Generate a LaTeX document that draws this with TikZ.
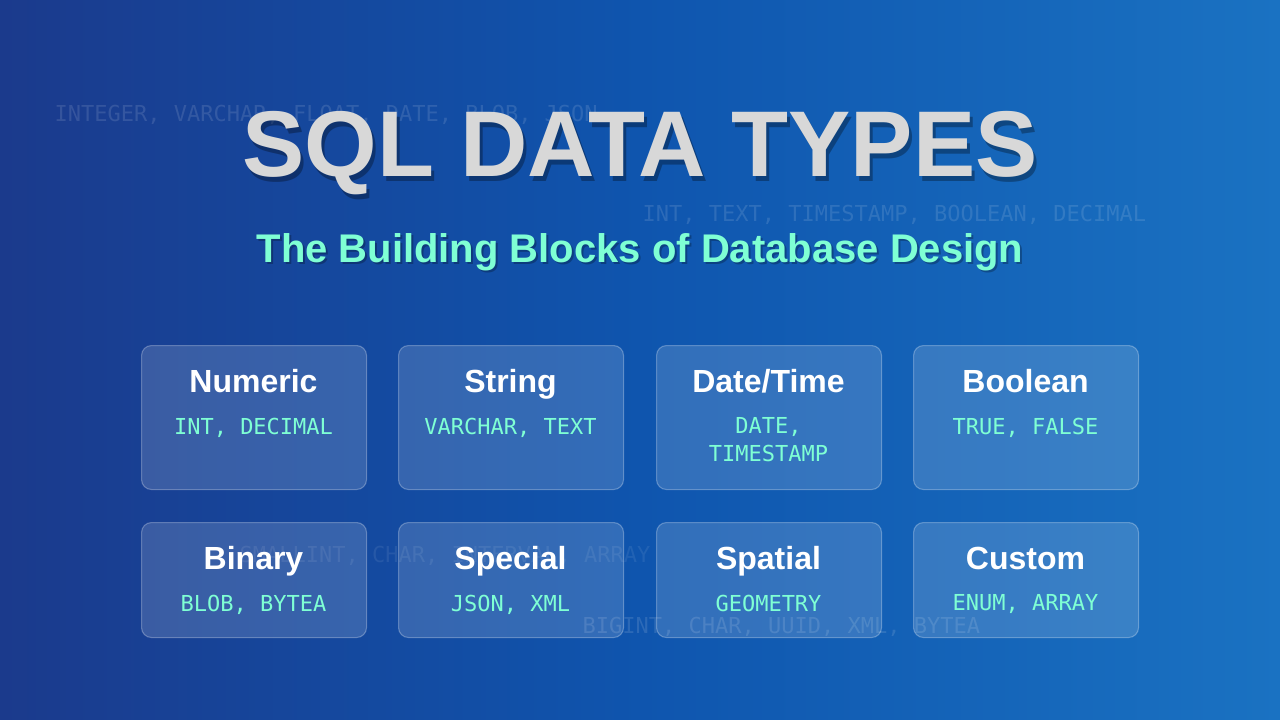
\documentclass[tikz,border=0pt]{standalone}
\usepackage{fontspec}
\setmainfont{Liberation Sans}
\newfontfamily\monof{DejaVu Sans Mono}
\definecolor{bgA}{HTML}{1B3A8C}
\definecolor{bgB}{HTML}{0F55AE}
\definecolor{bgC}{HTML}{1A72C2}
\definecolor{aqua}{HTML}{7FFFD4}
\definecolor{titleg}{HTML}{D8D8D8}
\tikzset{
 card/.style={draw=white,draw opacity=0.28,fill=white,fill opacity=0.15,rounded corners=7.5pt,line width=0.8pt,minimum width=168.75pt,text opacity=1},
 cardhead/.style={font=\bfseries\fontsize{24}{26}\selectfont,text=white},
 cardsub/.style={font=\monof\fontsize{16.5}{21}\selectfont,text=aqua,align=center},
 ghost/.style={font=\monof\fontsize{16.5}{18}\selectfont,text=white,text opacity=0.12,anchor=west}
}
\begin{document}
\begin{tikzpicture}[x=0.75pt,y=-0.75pt]
\useasboundingbox (0,0) rectangle (1280,720);
\shade[left color=bgA,right color=bgC,middle color=bgB] (0,0) rectangle (1280,720);
\node[ghost] (g1) at (50,115) {INTEGER, VARCHAR, FLOAT, DATE, BLOB, JSON};
\node[ghost] (g2) at (638,215) {INT, TEXT, TIMESTAMP, BOOLEAN, DECIMAL};
\node[ghost,anchor=east,text opacity=0.08] (g3) at (655,556) {SMALLINT, CHAR, INTERVAL, ARRAY};
\node[ghost] (g4) at (578,627) {BIGINT, CHAR, UUID, XML, BYTEA};
\node[font=\bfseries\fontsize{70}{76}\selectfont,text=black,opacity=0.3] at (643,158) {SQL DATA TYPES};
\node[font=\bfseries\fontsize{70}{76}\selectfont,text=titleg] (title) at (640,153) {SQL DATA TYPES};
\node[font=\bfseries\fontsize{30}{34}\selectfont,text=black,opacity=0.25] at (642,254) {The Building Blocks of Database Design};
\node[font=\bfseries\fontsize{30}{34}\selectfont,text=aqua] (sub) at (640,252) {The Building Blocks of Database Design};
\foreach \x/\y/\h/\t/\s [count=\i] in {
 141/345/144/Numeric/{INT, DECIMAL},
 398/345/144/String/{VARCHAR, TEXT},
 656/345/144/Date\slash Time/{DATE,\\TIMESTAMP},
 913/345/144/Boolean/{TRUE, FALSE},
 141/522/115/Binary/{BLOB, BYTEA},
 398/522/115/Special/{JSON, XML},
 656/522/115/Spatial/{GEOMETRY},
 913/522/115/Custom/{ENUM, ARRAY}} {
 \node[card,minimum height=\h*0.75pt,anchor=north west] (c\i) at (\x,\y) {};
 \node[cardhead,anchor=base] (h\i) at (\x+112.5,\y+47) {\t};
 \node[cardsub,anchor=north] (s\i) at (\x+112.5,\y+68) {\s};
}
\end{tikzpicture}
\end{document}
